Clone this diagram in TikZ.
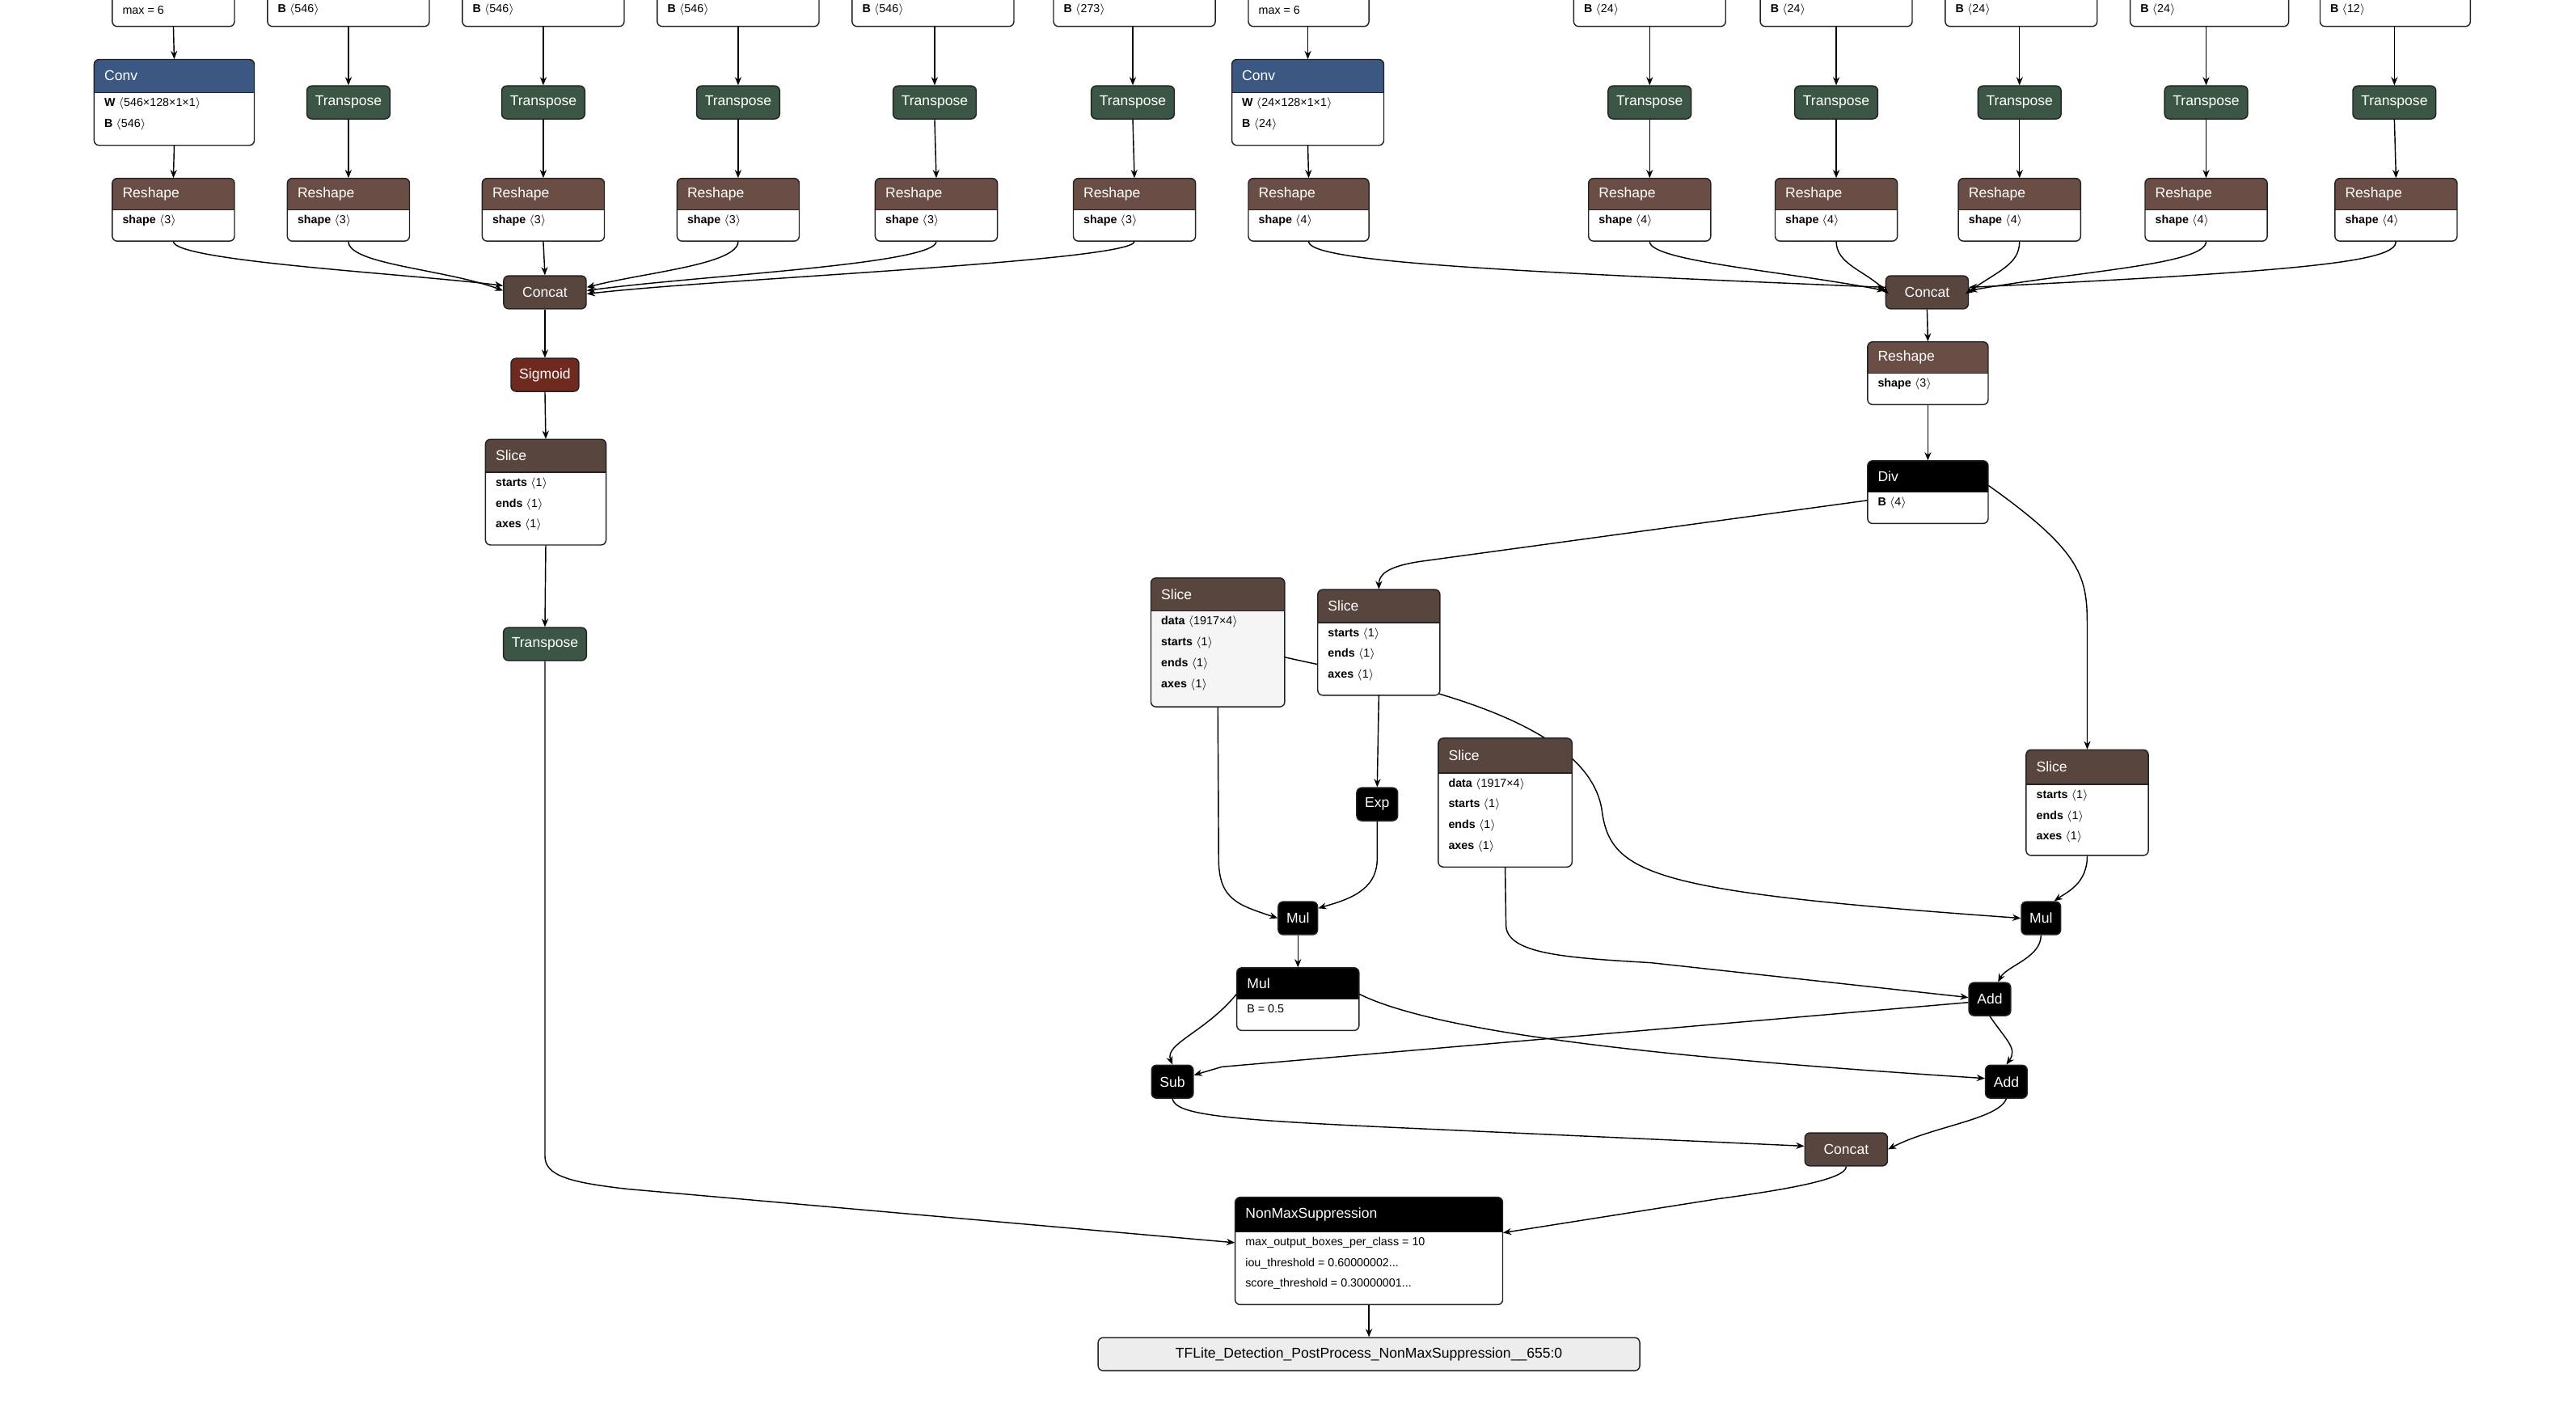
\documentclass[tikz,border=0pt]{standalone}
\usepackage{fontspec}
\setmainfont{Liberation Sans}
\usetikzlibrary{arrows.meta,fit,calc}
\definecolor{edgec}{HTML}{222222}
\definecolor{convc}{HTML}{3B5782}
\definecolor{transc}{HTML}{3C5646}
\definecolor{reshc}{HTML}{6A4E46}
\definecolor{slicec}{HTML}{58453D}
\definecolor{sigc}{HTML}{70291F}
\def\bfill{white}
\newcommand\titlef{\fontsize{8.6}{10}\selectfont}
\newcommand\bodyf{\fontsize{7}{12.6}\selectfont}
\newcommand\opbox[9]{%
 \begin{scope}
 \clip[rounded corners=3pt] (#2,#3) rectangle (#4,#5);
 \fill[#7] (#2,#3) rectangle (#4,#6);
 \fill[\bfill] (#2,#6) rectangle (#4,#5);
 \end{scope}
 \draw[line width=0.7pt, draw=edgec, rounded corners=3pt] (#2,#3) rectangle (#4,#5);
 \draw[edgec, line width=0.7pt] (#2,#6) -- (#4,#6);
 \node[anchor=west, text=white, font=\titlef, inner sep=0] at ({#2+6},{(#3+#6)/2}) {#8};
 \node[anchor=north west, align=left, font=\bodyf, inner sep=0] at ({#2+6},{#6+3}) {#9};
 \node[fit={(#2,#3)(#4,#5)}, inner sep=0] (#1) {};
}
\newcommand\topbox[5]{%
 \draw[line width=0.7pt, draw=edgec, fill=white, rounded corners=3pt] (#2,-20) rectangle (#3,16);
 \node[anchor=west, font=\bodyf, inner sep=0] at ({#2+6},6) {#4};
 \coordinate (#1) at (#5,16);
}
\newcommand\kv[2]{\textbf{#1}\ $\langle$#2$\rangle$}
\tikzset{x=1pt,y=-1pt,
 op/.style={draw=edgec, line width=0.7pt, rounded corners=3pt, text=white, font=\titlef, minimum height=20pt, inner xsep=5pt, inner ysep=0pt},
 e/.style={draw=black, line width=0.7pt, -{Stealth[length=5pt,width=4pt]}},
 pl/.style={draw=black, line width=0.7pt}}
\begin{document}
\begin{tikzpicture}
\useasboundingbox (0,0) rectangle (1560,854);
\fill[white] (0,0) rectangle (1560,854);
% top cut-off nodes
\topbox{t1}{68}{142}{max = 6}{105}
\topbox{t2}{162}{260}{\kv{B}{546}}{211}
\topbox{t3}{280}{378}{\kv{B}{546}}{329}
\topbox{t4}{398}{496}{\kv{B}{546}}{447}
\topbox{t5}{516}{614}{\kv{B}{546}}{566}
\topbox{t6}{638}{736}{\kv{B}{273}}{686}
\topbox{t7}{756}{829}{max = 6}{792}
\topbox{t8}{953}{1045}{\kv{B}{24}}{999}
\topbox{t9}{1066}{1158}{\kv{B}{24}}{1112}
\topbox{t10}{1178}{1270}{\kv{B}{24}}{1223}
\topbox{t11}{1290}{1386}{\kv{B}{24}}{1336}
\topbox{t12}{1405}{1496}{\kv{B}{12}}{1450}
% conv
\opbox{cv1}{57}{36}{154}{88}{56}{convc}{Conv}{\kv{W}{546×128×1×1}\\\kv{B}{546}}
\opbox{cv7}{746}{36}{838}{88}{56}{convc}{Conv}{\kv{W}{24×128×1×1}\\\kv{B}{24}}
% transposes
\foreach \n/\x in {2/211,3/329,4/447,5/566,6/686,8/999,9/1112,10/1223,11/1336,12/1450}{
 \node[op, fill=transc] (tr\n) at (\x,62) {Transpose};
}
% reshapes
\opbox{r1}{68}{108}{142}{146}{127}{reshc}{Reshape}{\kv{shape}{3}}
\opbox{r2}{174}{108}{248}{146}{127}{reshc}{Reshape}{\kv{shape}{3}}
\opbox{r3}{292}{108}{366}{146}{127}{reshc}{Reshape}{\kv{shape}{3}}
\opbox{r4}{410}{108}{484}{146}{127}{reshc}{Reshape}{\kv{shape}{3}}
\opbox{r5}{530}{108}{604}{146}{127}{reshc}{Reshape}{\kv{shape}{3}}
\opbox{r6}{650}{108}{724}{146}{127}{reshc}{Reshape}{\kv{shape}{3}}
\opbox{r7}{756}{108}{829}{146}{127}{reshc}{Reshape}{\kv{shape}{4}}
\opbox{r8}{962}{108}{1036}{146}{127}{reshc}{Reshape}{\kv{shape}{4}}
\opbox{r9}{1075}{108}{1149}{146}{127}{reshc}{Reshape}{\kv{shape}{4}}
\opbox{r10}{1186}{108}{1260}{146}{127}{reshc}{Reshape}{\kv{shape}{4}}
\opbox{r11}{1299}{108}{1373}{146}{127}{reshc}{Reshape}{\kv{shape}{4}}
\opbox{r12}{1414}{108}{1488}{146}{127}{reshc}{Reshape}{\kv{shape}{4}}
% top edges
\draw[e] (t1) -- (cv1.north);
\draw[e] (cv1.south) -- (r1.north);
\draw[e] (t7) -- (cv7.north);
\draw[e] (cv7.south) -- (r7.north);
\foreach \n in {2,3,4,5,6,8,9,10,11,12}{
 \draw[e] (t\n) -- (tr\n.north);
 \draw[e] (tr\n.south) -- (r\n.north);
}
% concat 1 chain
\node[op, fill=slicec, minimum width=50pt] (c1) at (330,177) {Concat};
\node[op, fill=sigc] (sig) at (330,227) {Sigmoid};
\opbox{s1}{294}{266}{367}{330}{286}{slicec}{Slice}{\kv{starts}{1}\\\kv{ends}{1}\\\kv{axes}{1}}
\node[op, fill=transc] (trL) at (330,390) {Transpose};
\draw[e] (r1.south) .. controls +(0,12) and (250,166) .. ($(c1.west)+(0,-4)$);
\draw[e] (r2.south) .. controls +(0,14) and (270,163) .. ($(c1.west)+(0,-1)$);
\draw[e] (r3.south) -- (c1.north);
\draw[e] (r4.south) .. controls +(0,14) and (390,165) .. ($(c1.east)+(0,-3)$);
\draw[e] (r5.south) .. controls +(0,14) and (420,167) .. ($(c1.east)+(0,-1)$);
\draw[e] (r6.south) .. controls +(0,12) and (430,169) .. ($(c1.east)+(0,1)$);
\draw[e] (c1.south) -- (sig.north);
\draw[e] (sig.south) -- (s1.north);
\draw[e] (s1.south) -- (trL.north);
% concat 2 chain
\node[op, fill=slicec, minimum width=50pt] (c2) at (1167,177) {Concat};
\opbox{rr}{1131}{207}{1204}{245}{226}{reshc}{Reshape}{\kv{shape}{3}}
\opbox{div}{1131}{279}{1204}{317}{298}{black}{Div}{\kv{B}{4}}
\draw[e] (r7.south) .. controls +(0,12) and (900,164) .. ($(c2.west)+(0,-3)$);
\draw[e] (r8.south) .. controls +(0,12) and (1080,164) .. ($(c2.west)+(0,-1)$);
\draw[e] (r9.south) .. controls +(0,14) and (1130,164) .. ($(c2.west)+(2,1)$);
\draw[e] (r10.south) .. controls +(0,14) and (1210,164) .. ($(c2.east)+(-2,1)$);
\draw[e] (r11.south) .. controls +(0,14) and (1260,164) .. ($(c2.east)+(0,-1)$);
\draw[e] (r12.south) .. controls +(0,12) and (1400,164) .. ($(c2.east)+(0,-3)$);
\draw[e] (c2.south) -- (rr.north);
\draw[e] (rr.south) -- (div.north);
% slices
\def\bfill{black!4}
\opbox{sa}{697}{350}{778}{428}{370}{slicec}{Slice}{\kv{data}{1917×4}\\\kv{starts}{1}\\\kv{ends}{1}\\\kv{axes}{1}}
\def\bfill{white}
\node[op, fill=black] (mul2) at (1236,556) {Mul};
\draw[e] (sa.east |- 0,398) .. controls (830,410) and (960,430) .. (970,490) .. controls (975,530) and (1000,540) .. (mul2.west);
\opbox{sb}{798}{357}{872}{421}{377}{slicec}{Slice}{\kv{starts}{1}\\\kv{ends}{1}\\\kv{axes}{1}}
\opbox{sc}{871}{447}{952}{525}{468}{slicec}{Slice}{\kv{data}{1917×4}\\\kv{starts}{1}\\\kv{ends}{1}\\\kv{axes}{1}}
\opbox{sd}{1227}{454}{1301}{518}{475}{slicec}{Slice}{\kv{starts}{1}\\\kv{ends}{1}\\\kv{axes}{1}}
\node[op, fill=black] (exp) at (834,487) {Exp};
\node[op, fill=black] (mul1) at (786,556) {Mul};
\opbox{mb}{749}{586}{823}{624}{605}{black}{Mul}{B = 0.5}
\node[op, fill=black] (add1) at (1205,605) {Add};
\node[op, fill=black] (sub) at (710,655) {Sub};
\node[op, fill=black] (add2) at (1215,655) {Add};
\node[op, fill=slicec, minimum width=50pt] (c3) at (1118,696) {Concat};
\opbox{nms}{748}{725}{910}{790}{746}{black}{NonMaxSuppression}{max\_output\_boxes\_per\_class = 10\\iou\_threshold = 0.60000002...\\score\_threshold = 0.30000001...}
\node[draw=edgec, line width=0.7pt, rounded corners=3pt, fill=black!7, font=\titlef, minimum height=20pt, minimum width=328pt, inner sep=0] (out) at (829,820) {TFLite\_Detection\_PostProcess\_NonMaxSuppression\_\_655:0};
% edges lower
\draw[e] ($(div.west)+(0,5)$) -- (860,340) .. controls (840,343) and (835,348) .. (sb.north);
\draw[e] ($(div.east)+(0,-4)$) .. controls (1262,335) and (1264,350) .. (1264,380) -- (sd.north);
\draw[e] (sb.south) -- (exp.north);
\draw[e] (sa.south) -- (738,520) .. controls (738,545) and (750,548) .. (mul1.west);
\draw[e] (exp.south) -- (834,520) .. controls (834,540) and (815,545) .. ($(mul1.east)+(0,-6)$);
\draw[e] (sd.south) .. controls (1264,535) and (1252,540) .. ($(mul2.north)+(8,0)$);
\draw[e] (mul1.south) -- (mb.north);
\draw[e] (mul2.south) .. controls (1236,580) and (1215,585) .. ($(add1.north)+(5,0)$);
\draw[e] (sc.south) -- (912,560) .. controls (912,578) and (950,580) .. (1000,583) -- ($(add1.west)+(0,-1)$);
\draw[e] ($(add1.west)+(0,2)$) -- (740,646) -- ($(sub.east)+(0,-4)$);
\draw[e] ($(mb.west)+(0,-3)$) .. controls (730,625) and (705,632) .. (sub.north);
\draw[e] ($(mb.east)+(0,-3)$) .. controls (870,625) and (1000,640) .. ($(add2.west)+(0,-2)$);
\draw[e] (add1.south) .. controls (1215,630) and (1222,635) .. (add2.north);
\draw[e] (sub.south) .. controls (712,675) and (740,678) .. (850,683) -- ($(c3.west)+(0,-2)$);
\draw[e] (add2.south) .. controls (1210,678) and (1170,682) .. (c3.east);
\draw[e] (c3.south) .. controls (1118,712) and (1100,718) .. (1040,726) -- ($(nms.east)+(0,-11)$);
\draw[e] (trL.south) -- (330,700) .. controls (330,712) and (345,716) .. (380,720) -- ($(nms.west)+(0,-5)$);
\draw[e] (nms.south) -- (out.north);
\end{tikzpicture}
\end{document}
